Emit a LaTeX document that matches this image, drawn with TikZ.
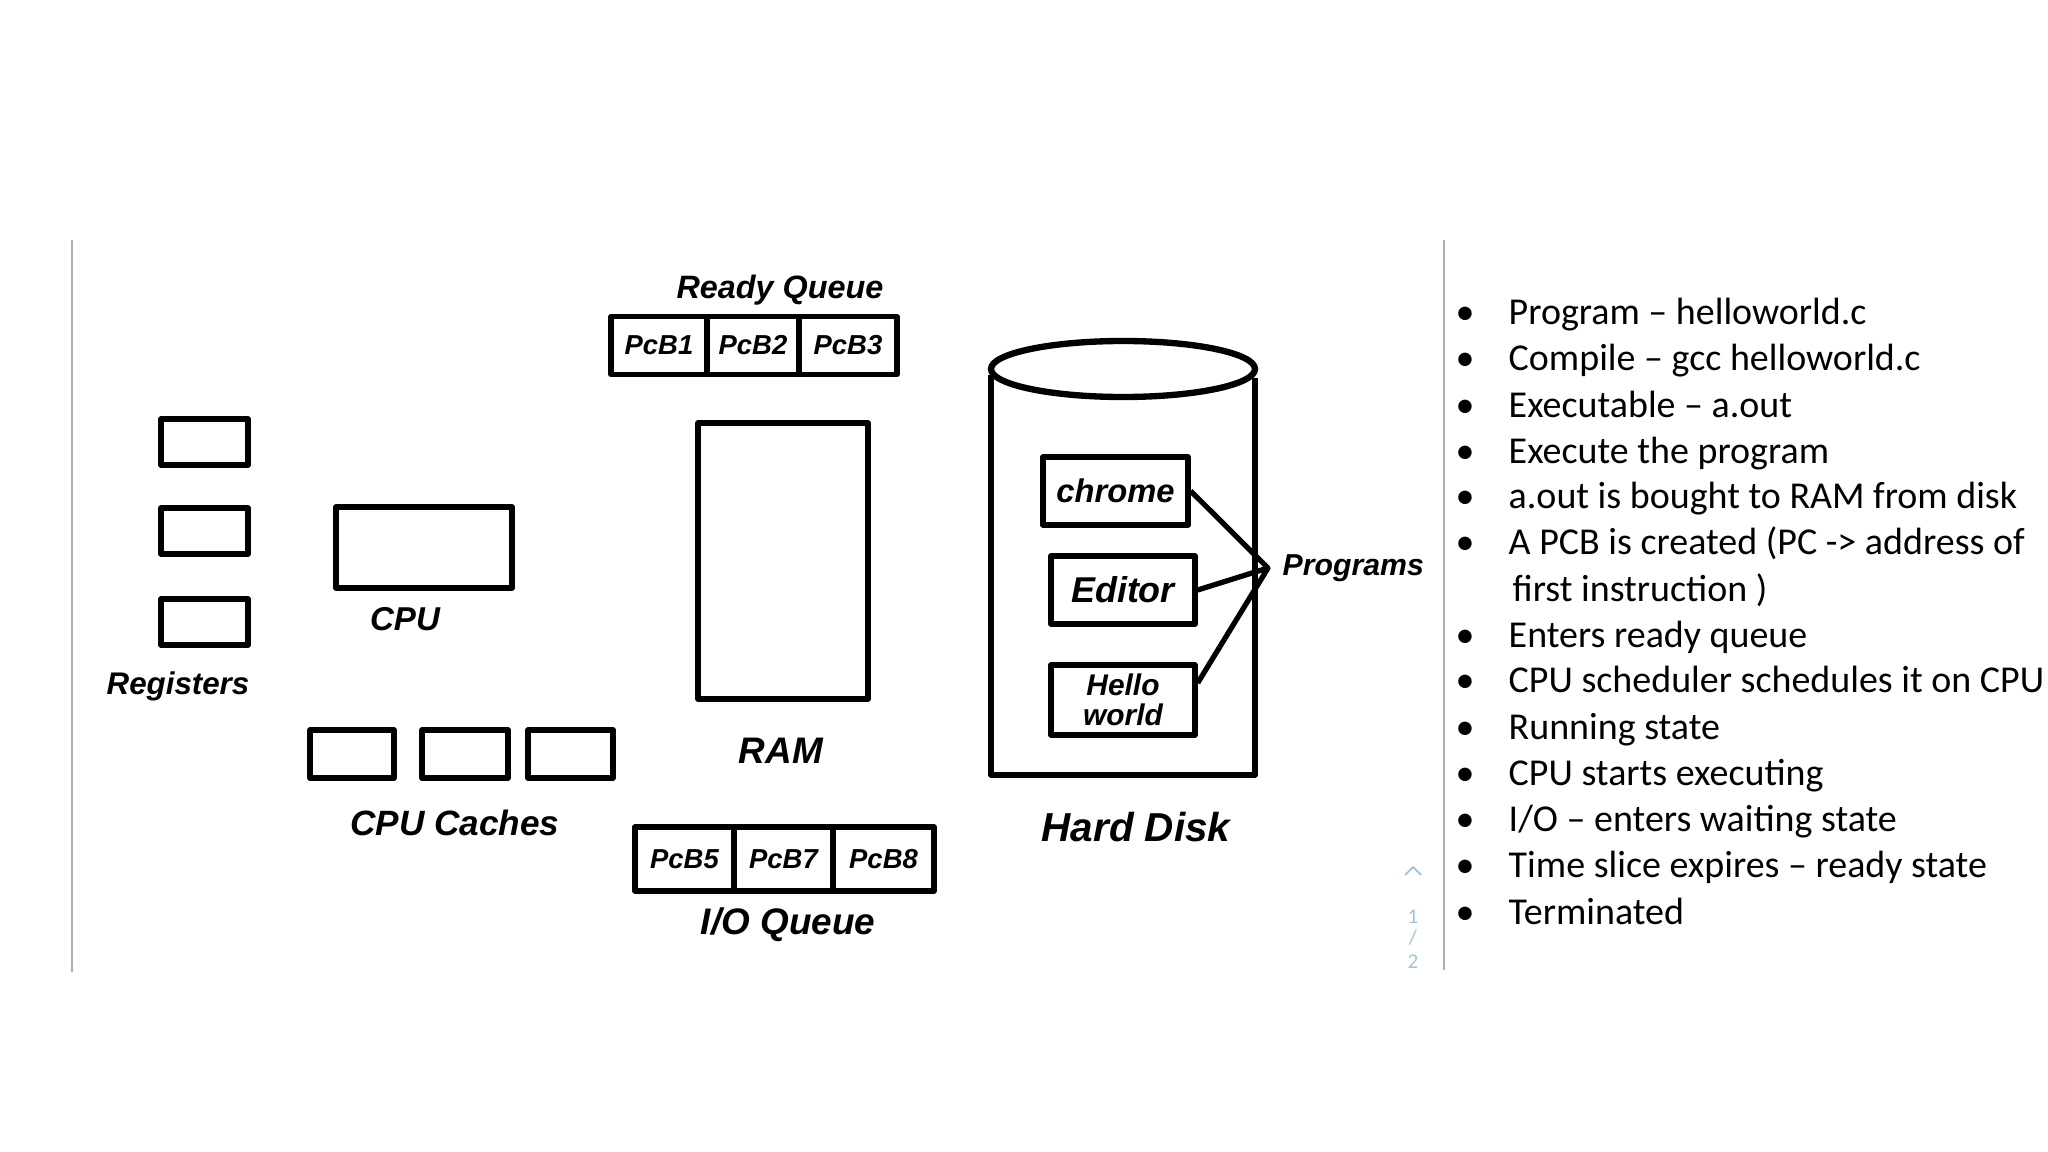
\documentclass[tikz,border=0pt]{standalone}
\usepackage{fontspec}
\setmainfont{Carlito}
\newfontfamily\hand{Liberation Sans}
\definecolor{sepgray}{RGB}{175,175,175}
\definecolor{pagenum}{RGB}{160,195,218}
\tikzset{
	boxA/.style={
		draw, line width=1.5pt, inner sep=0pt, line join=round
	},
	handA/.style={
		inner sep=0pt, font={\hand\bfseries\itshape\fontsize{#1}{#1}\selectfont}
	},
	handA/.default=10pt,
	itemA/.style={
		inner sep=0pt, anchor=west, text height=8pt, text depth=0.8pt,
		font={\fontsize{10.8pt}{13pt}\selectfont}
	},
	>=stealth,
}
\begin{document}
\begin{tikzpicture}[x=0.01cm, y=-0.01cm]
\useasboundingbox (0,0) rectangle (2048,1152);
\draw[sepgray, line width=0.6pt] (72,240) -- (72,972);
\draw[sepgray, line width=0.6pt] (1444,240) -- (1444,970);

% registers and cpu
\node[boxA, minimum width=0.87cm, minimum height=0.46cm] (reg1) at (204.5,442) {};
\node[boxA, minimum width=0.87cm, minimum height=0.46cm] (reg2) at (204.5,531) {};
\node[boxA, minimum width=0.87cm, minimum height=0.46cm] (reg3) at (204.5,622) {};
\node[handA=8.9pt] (regs) at (178,686) {Registers};
\node[boxA, minimum width=1.76cm, minimum height=0.81cm] (cpu) at (424,547.5) {};
\node[handA=9.4pt] (cpulbl) at (405,619) {CPU};
\node[boxA, minimum width=0.84cm, minimum height=0.48cm] (cache1) at (352,754) {};
\node[boxA, minimum width=0.86cm, minimum height=0.48cm] (cache2) at (465,754) {};
\node[boxA, minimum width=0.85cm, minimum height=0.48cm] (cache3) at (570.5,754) {};
\node[handA=10pt] (caches) at (455,823) {CPU Caches};

% queues and ram
\node[handA=9.2pt] (rqlbl) at (780,290) {Ready Queue};
\node[boxA, handA=7.8pt, minimum width=0.96cm, minimum height=0.58cm] (rq1) at (659,345.5) {PcB1};
\node[boxA, handA=7.8pt, minimum width=0.92cm, minimum height=0.58cm] (rq2) at (753,345.5) {PcB2};
\node[boxA, handA=7.8pt, minimum width=0.98cm, minimum height=0.58cm] (rq3) at (848,345.5) {PcB3};
\node[boxA, minimum width=1.70cm, minimum height=2.76cm] (ram) at (783,561) {};
\node[handA=10.5pt] (ramlbl) at (781,751) {RAM};
\node[boxA, handA=7.8pt, minimum width=0.99cm, minimum height=0.64cm] (io1) at (684.5,859) {PcB5};
\node[boxA, handA=7.8pt, minimum width=0.99cm, minimum height=0.64cm] (io2) at (783.5,859) {PcB7};
\node[boxA, handA=7.8pt, minimum width=1.01cm, minimum height=0.64cm] (io3) at (883.5,859) {PcB8};
\node[handA=10.5pt] (iolbl) at (788,925) {I/O Queue};

% hard disk
\draw[line width=1.5pt, line join=round] (991,375) -- (991,775) -- (1255,775) -- (1255,378);
\draw[line width=1.8pt] (1123,369) ellipse [x radius=132, y radius=28];
\node[boxA, handA=9.3pt, minimum width=1.45cm, minimum height=0.68cm] (chrome) at (1115.5,491) {chrome};
\node[boxA, handA=10.2pt, minimum width=1.44cm, minimum height=0.68cm] (editor) at (1123,590) {Editor};
\node[boxA, handA=8.5pt, align=center, minimum width=1.44cm, minimum height=0.70cm] (hello) at (1123,700) {Hello\\world};
\node[handA=11.5pt] (disk) at (1136,827) {Hard Disk};
\coordinate (tip) at (1268,568);
\node[handA=8.6pt, anchor=west] (progs) at (1282,568) {Programs};
\draw[line width=1.5pt, line join=round] (chrome.east) -- (tip) -- (editor.east)
	(tip) -- ([yshift=0.17cm]hello.east);

% page counter
\draw[pagenum, line width=0.5pt] (1405,875) -- (1413,867) -- (1421,875);
\node[pagenum, inner sep=0pt, font=\fontsize{6pt}{6pt}\selectfont] (pg1) at (1413,917) {1};
\node[pagenum, inner sep=0pt, font=\fontsize{6pt}{6pt}\selectfont] (pgs) at (1413,938) {/};
\node[pagenum, inner sep=0pt, font=\fontsize{6pt}{6pt}\selectfont] (pg2) at (1413,962) {2};

% steps
\foreach \y/\txt [count=\i] in {312/Program – helloworld.c, 358/Compile – gcc helloworld.c,
	405/Executable – a.out, 451/Execute the program, 496/a.out is bought to RAM from disk,
	542/A PCB is created (PC -> address of, 635/Enters ready queue,
	680/CPU scheduler schedules it on CPU, 727/Running state, 773/CPU starts executing,
	819/{I/O – enters waiting state}, 865/Time slice expires – ready state, 912/Terminated}
{
	\node[itemA, anchor=center] (bul\i) at (1465,\y) {\textbullet};
	\node[itemA] (item\i) at (1508,\y) {\txt};
}
\node[itemA] (item6b) at (1512,589) {first instruction )};
\end{tikzpicture}
\end{document}
